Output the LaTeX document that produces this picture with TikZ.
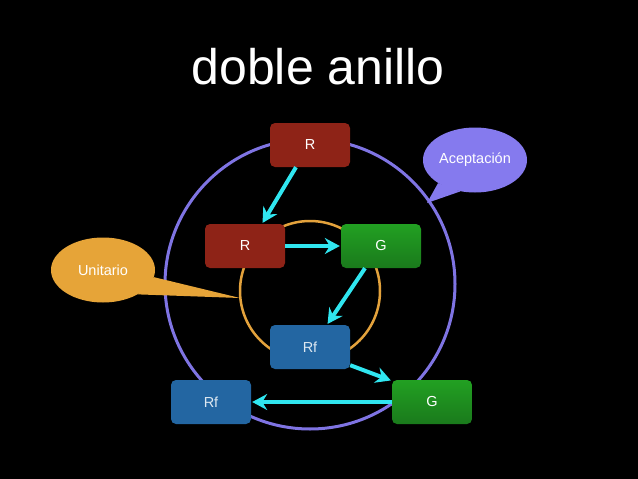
\documentclass[tikz,border=0pt]{standalone}
\usepackage{fontspec}
\setmainfont{Liberation Sans}
\usetikzlibrary{shapes.geometric,arrows.meta}
\definecolor{outerpurple}{HTML}{7F74E3}
\definecolor{bubblepurple}{HTML}{857AEE}
\definecolor{ringorange}{HTML}{E3A23C}
\definecolor{bubbleorange}{HTML}{E6A438}
\definecolor{boxred}{HTML}{8E2317}
\definecolor{boxblue}{HTML}{2366A2}
\definecolor{greentop}{HTML}{22A022}
\definecolor{greenbot}{HTML}{1A7A1C}
\definecolor{arrowcyan}{HTML}{30E6F0}
\tikzset{
  x=1pt, y=-1pt,
  box/.style={rectangle, rounded corners=5pt, minimum width=80pt, minimum height=44pt,
    inner sep=0pt, text=white, font=\fontsize{14.5}{16}\selectfont},
  redbox/.style={box, fill=boxred},
  bluebox/.style={box, fill=boxblue, text=white!85!boxblue},
  greenbox/.style={box, top color=greentop, bottom color=greenbot},
  flow/.style={draw=arrowcyan, line width=4pt, -{Stealth[length=15pt,width=16pt,inset=5pt]}, shorten >=1pt},
  bubble/.style={ellipse, minimum width=104pt, minimum height=65pt, inner sep=0pt,
    text=white, font=\fontsize{14.5}{16}\selectfont},
}
\begin{document}
\begin{tikzpicture}
\useasboundingbox (0,0) rectangle (638,479);
\fill[black] (0,0) rectangle (638,479);
% title
\node[anchor=base, text=white, font=\fontsize{50}{54}\selectfont] (title) at (318,84) {doble anillo};
% rings
\draw[outerpurple, line width=3pt] (310,284) circle[radius=145];
\draw[ringorange, line width=2.5pt] (310,291) circle[radius=70];
% boxes
\node[redbox] (r1) at (310,145) {R};
\node[redbox] (r2) at (245,246) {R};
\node[greenbox] (g1) at (381,246) {G};
\node[bluebox] (rf1) at (310,347) {Rf};
\node[bluebox] (rf2) at (211,402) {Rf};
\node[greenbox] (g2) at (432,402) {G};
% connectors
\draw[flow] ([xshift=-14pt]r1.south) -- ([xshift=17pt]r2.north);
\draw[flow] (r2.east) -- (g1.west);
\draw[flow] ([xshift=-16pt]g1.south) -- ([xshift=17pt]rf1.north);
\draw[flow] ([yshift=4pt]rf1.south east) -- ([yshift=-1pt]g2.north west);
\draw[flow] (g2.west) -- (rf2.east);
% callouts
\node[bubble, fill=bubblepurple] (acc) at (475,160) {Aceptación};
\coordinate (accTip) at (427,203);
\fill[bubblepurple] (acc.212) -- (accTip) -- (acc.245) -- cycle;
\node[bubble, fill=bubbleorange] (uni) at (103,270) {Unitario};
\coordinate (uniTip) at (240,298);
\fill[bubbleorange] (uni.-8) -- (uniTip) -- (uni.-35) -- cycle;
\end{tikzpicture}
\end{document}
